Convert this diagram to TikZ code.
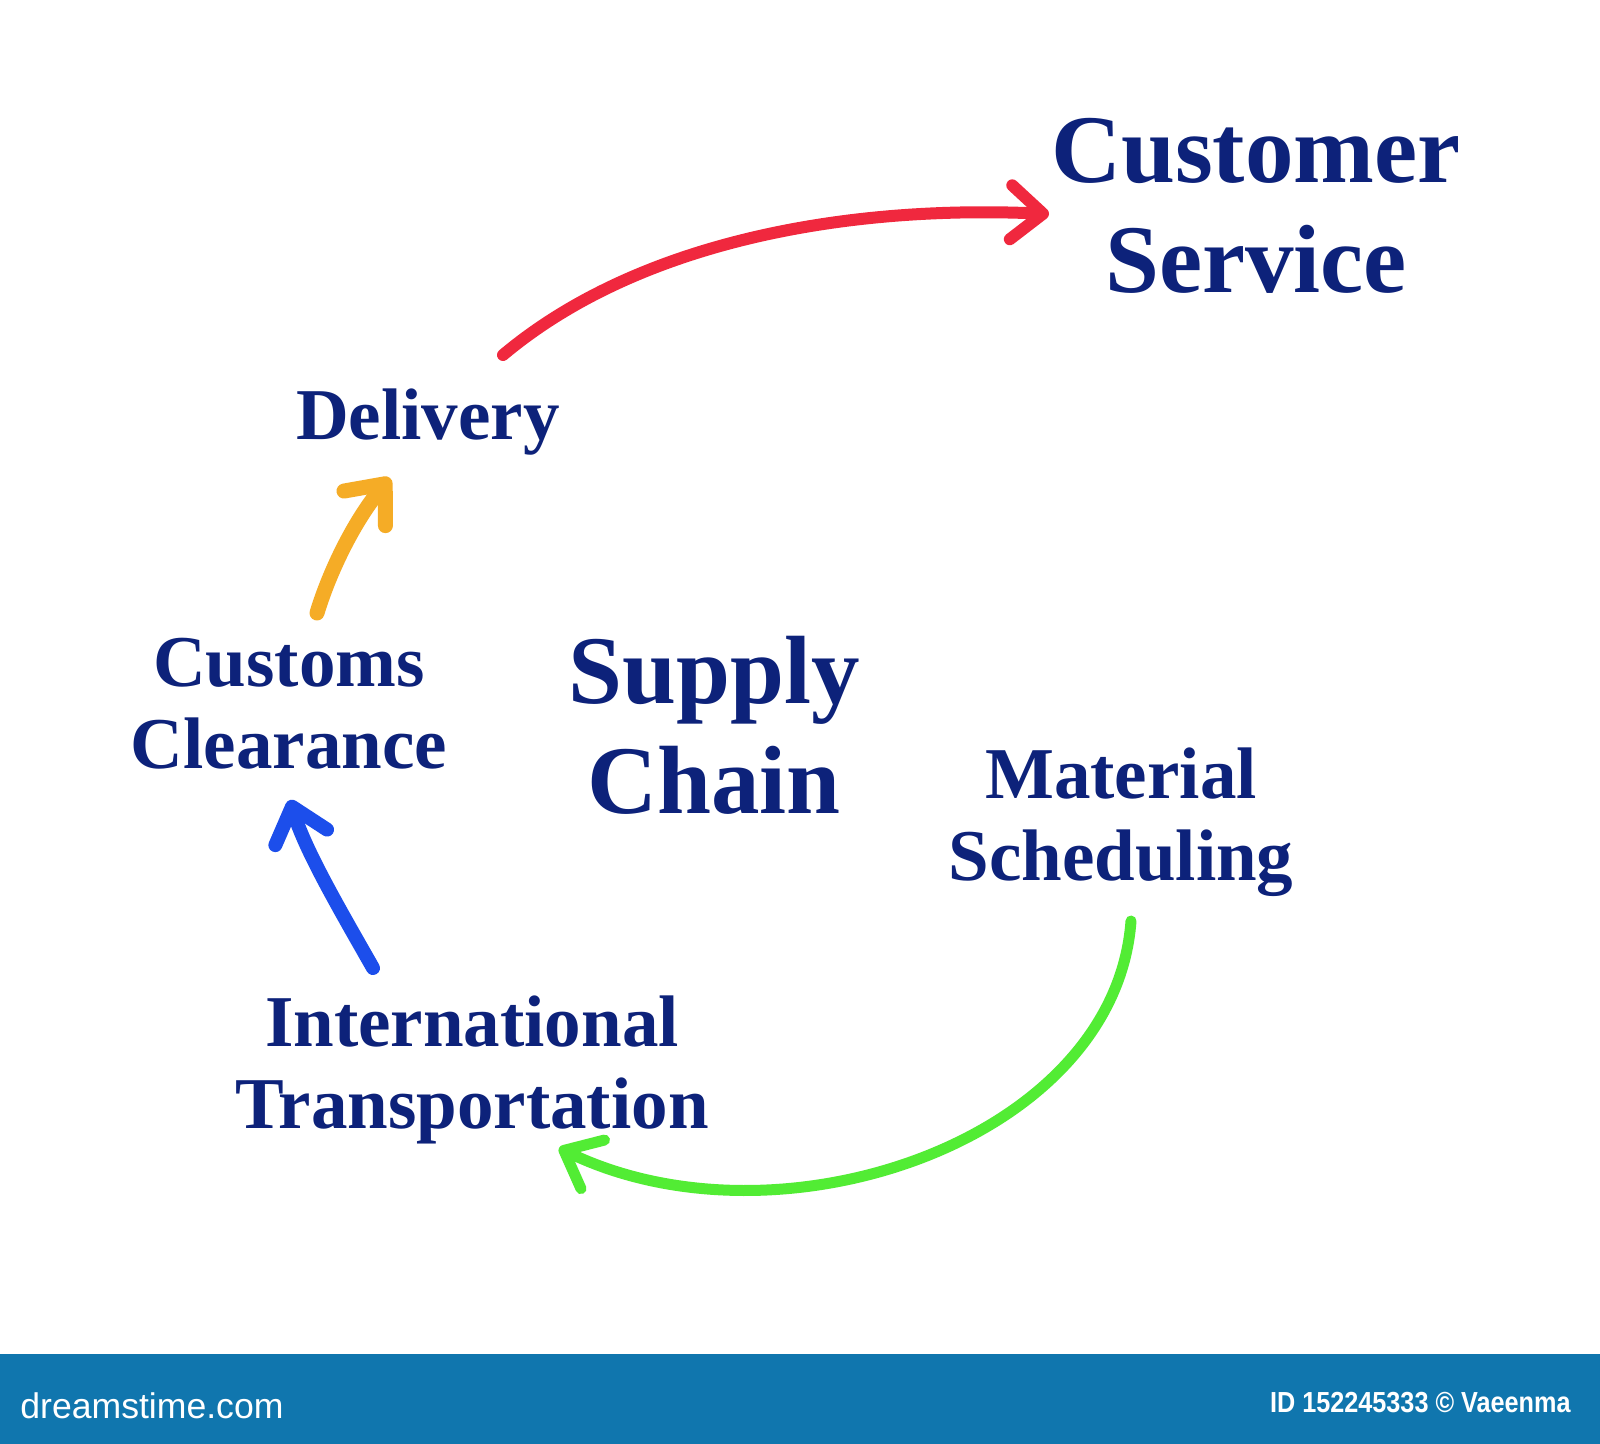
\documentclass[tikz,border=0pt]{standalone}
\usepackage{fontspec}
\usepackage{graphicx}
\setmainfont{Liberation Serif}
\newfontfamily\bannerfont{Liberation Sans}
\usetikzlibrary{arrows.meta}
\definecolor{navy}{RGB}{13,34,122}
\definecolor{ared}{RGB}{240,40,62}
\definecolor{aorange}{RGB}{245,172,38}
\definecolor{ablue}{RGB}{28,78,235}
\definecolor{agreen}{RGB}{82,236,52}
\definecolor{banner}{RGB}{16,118,174}
\tikzset{
  label/.style={text=navy, font=\bfseries\fontsize{36.5}{41}\selectfont, align=center, anchor=base, inner sep=0pt},
  biglabel/.style={text=navy, font=\bfseries\fontsize{48.5}{55}\selectfont, align=center, anchor=base, inner sep=0pt},
  flow/.style={line width=#1, line cap=round, -{Straight Barb[length=16pt,width=27pt,round]}},
}
\begin{document}
\begin{tikzpicture}[x=0.5pt,y=-0.5pt]
\useasboundingbox[fill=white] (0,0) rectangle (1600,1444);
% labels (anchor = baseline of last line)
\node[biglabel] (cs) at (1256,293) {Customer\\Service};
\node[label] (del) at (428,439) {Delivery};
\node[label] (cc) at (289,768) {Customs\\Clearance};
\node[biglabel] (sc) at (714,813) {Supply\\Chain};
\node[label] (ms) at (1121,880) {Material\\Scheduling};
\node[label] (it) at (472,1128) {International\\Transportation};
% arrow ends
\coordinate (r0) at (503,355);
\coordinate (r1) at (1049,214);
\coordinate (o0) at (317,613);
\coordinate (o1) at (390,478);
\coordinate (b0) at (373,968);
\coordinate (b1) at (290,800);
\coordinate (g0) at (1131,921);
\coordinate (g1) at (559,1148);
\draw[flow=6pt, ared] (r0) .. controls (640,240) and (850,205) .. (r1);
\draw[flow=7.5pt, aorange] (o0) .. controls (330,570) and (355,520) .. (o1);
\draw[flow=7pt, ablue] (b0) .. controls (340,910) and (305,850) .. (b1);
\draw[flow=5.5pt, agreen] (g0) .. controls (1115,1140) and (780,1255) .. (g1);
% banner
\fill[banner] (0,1354) rectangle (1600,1444);
\node[text=white, font=\bannerfont\fontsize{17.8}{20}\selectfont, anchor=base west, inner sep=0pt] (dt) at (20,1418) {dreamstime.com};
\node[text=white, font=\bannerfont\bfseries\fontsize{14.5}{16}\selectfont, anchor=base east, inner sep=0pt] (id) at (1571,1412) {\scalebox{0.87}[1]{ID 152245333 © Vaeenma}};
\end{tikzpicture}
\end{document}
